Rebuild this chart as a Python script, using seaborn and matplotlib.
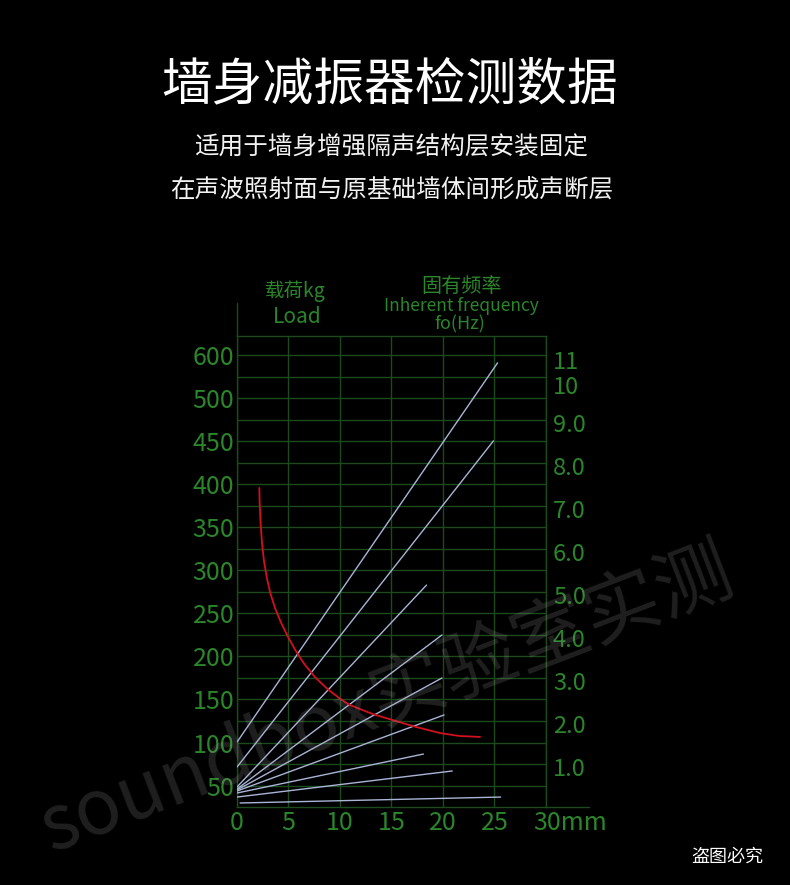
import matplotlib
matplotlib.use('Agg')
import matplotlib.pyplot as plt
import matplotlib.transforms as mtransforms
import numpy as np
import pandas as pd
import seaborn as sns

# load axis (kg) - labels sit on every second grid row, spacing is not linear
load_ticks = [50, 100, 150, 200, 250, 300, 350, 400, 450, 500, 600]
freq_labels = ['1.0', '2.0', '3.0', '4.0', '5.0', '6.0', '7.0', '8.0', '9.0', '10', '11']
thick_ticks = [0, 5, 10, 15, 20, 25, 30]
thick_labels = ['0', '5', '10', '15', '20', '25', '30mm']

# natural-frequency lines, start and end point (thickness mm, load kg)
line_x0 = [0, 0, 0, 0, 0, 0, 0, 0, 0.3]
line_kg0 = [100.5, 71.5, 48.3, 45.9, 44.8, 43.6, 41.3, 36.6, 29.7]
line_x1 = [25.3, 24.9, 18.4, 19.9, 19.9, 20.1, 18.1, 20.9, 25.6]
line_kg1 = [582.6, 450.6, 283, 225, 175, 132, 86.6, 66.9, 36.6]

# load / deflection curve
curve_mm = [2.17, 2.20, 2.28, 2.42, 2.62, 2.90, 3.25, 3.70, 4.25, 4.90, 5.63, 6.55,
            7.57, 8.80, 10.0, 10.97, 13.2, 15.15, 17.1, 19.7, 21.65, 23.6]
curve_kg = [396, 378, 357, 333, 311, 291, 273, 256, 240, 224, 208, 191,
            176, 162, 151, 143.5, 133, 126, 119, 111, 107.5, 106.5]

title = '墙身减振器检测数据'
subtitle1 = '适用于墙身增强隔声结构层安装固定'
subtitle2 = '在声波照射面与原基础墙体间形成声断层'

GREEN = '#2b862b'
GRID = '#1d4a1d'
LINE = '#a9b5d6'
RED = '#d4101e'
CJK = ['Noto Sans CJK SC', 'DejaVu Sans']

sns.set_theme(style='dark', rc={'figure.facecolor': 'black', 'axes.facecolor': 'black',
                                'savefig.facecolor': 'black'})
plt.rcParams['font.family'] = CJK

# map kg onto grid rows so that each label gets two rows
kg_knots = [0, 25] + load_ticks + [700]
row_knots = [-1, 0] + list(range(1, 22, 2)) + [23]


def to_row(v):
    return np.interp(v, kg_knots, row_knots)


def from_row(r):
    return np.interp(r, row_knots, kg_knots)


fig = plt.figure(figsize=(7.9, 8.85), dpi=100)
ax = fig.add_axes([0.3, 0.0881, 0.3911, 0.5322])
ax.set_yscale('function', functions=(to_row, from_row))
ax.set_ylim(25, from_row(21.9))
ax.set_xlim(0, 30)

rows = []
for i in range(len(line_x0)):
    rows.append({'mm': line_x0[i], 'kg': line_kg0[i], 'line': i})
    rows.append({'mm': line_x1[i], 'kg': line_kg1[i], 'line': i})
df = pd.DataFrame(rows)
sns.lineplot(data=df, x='mm', y='kg', units='line', estimator=None,
             color=LINE, lw=1.0, ax=ax, zorder=3)
sns.lineplot(x=curve_mm, y=curve_kg, sort=False, color=RED, lw=1.3, ax=ax, zorder=4)

ax.set_yticks(load_ticks)
ax.set_yticklabels([str(v) for v in load_ticks])
ax.set_yticks(from_row(np.arange(2, 21, 2)), minor=True)
ax.set_xticks(thick_ticks)
ax.set_xticklabels(thick_labels)
ax.grid(True, which='both', color=GRID, lw=1.0)
ax.tick_params(which='both', length=0)
ax.tick_params(axis='y', pad=2, labelcolor=GREEN, labelsize=18)
ax.tick_params(axis='x', pad=2, labelcolor=GREEN, labelsize=18)
last = ax.get_xticklabels()[-1]
last.set_ha('left')
last.set_transform(last.get_transform() +
                   mtransforms.ScaledTranslation(-0.13, 0, fig.dpi_scale_trans))
ax.set_xlabel('')
ax.set_ylabel('')
for s in ax.spines.values():
    s.set_color(GRID)
    s.set_linewidth(1.0)

# left spine runs up past the frame, bottom line runs past the right edge
ax.plot([0, 0], [1, 1.07], transform=ax.transAxes, color=GRID, lw=1.0, clip_on=False)
ax.plot([1, 1.139], [0, 0], transform=ax.transAxes, color=GRID, lw=1.0, clip_on=False)

ax2 = ax.twinx()
ax2.set_ylim(0, 21.9)
ax2.set_yticks([2 * k - 0.14 for k in range(1, 10)] + [19.6, 20.8])
ax2.set_yticklabels(freq_labels)
ax2.tick_params(axis='y', length=0, pad=5, labelcolor=GREEN, labelsize=17)
ax2.grid(False)
for s in ax2.spines.values():
    s.set_visible(False)

# axis titles
fig.text(0.3734, 0.6712, '载荷kg', color=GREEN, fontsize=14, ha='center', va='center')
fig.text(0.376, 0.6418, 'Load', color=GREEN, fontsize=15, ha='center', va='center')
fig.text(0.5848, 0.6767, '固有频率', color=GREEN, fontsize=14.5, ha='center', va='center')
fig.text(0.5835, 0.6548, 'Inherent frequency', color=GREEN, fontsize=12.5,
         ha='center', va='center')
fig.text(0.5823, 0.6335, 'fo(Hz)', color=GREEN, fontsize=13, ha='center', va='center')

fig.text(0.4937, 0.904, title, color='white', fontsize=36.5, ha='center', va='center',
         fontweight='light')
fig.text(0.4949, 0.8328, subtitle1, color='#f2f2f2', fontsize=17.7, ha='center', va='center')
fig.text(0.4962, 0.7853, subtitle2, color='#f2f2f2', fontsize=17.7, ha='center', va='center')
fig.text(0.920, 0.0316, '盗图必究', color='white', fontsize=13, ha='center', va='center')

# watermark
fig.text(0.49, 0.209, 'soundbox实验室实测', color='#9a9a9a', alpha=0.2, fontsize=55,
         rotation=21, ha='center', va='center', rotation_mode='anchor', zorder=10)

fig.savefig('out.png', dpi=100, facecolor='black')
